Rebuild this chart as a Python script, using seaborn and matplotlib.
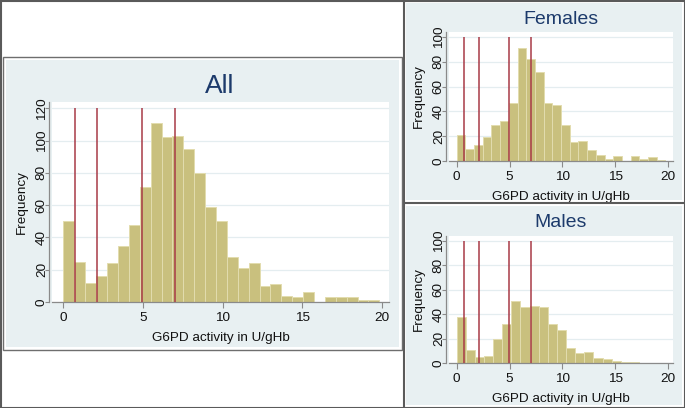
import numpy as np
import pandas as pd
import matplotlib
matplotlib.use("Agg")
import matplotlib.pyplot as plt
from matplotlib.patches import Rectangle
import seaborn as sns

# === Data ===
all_counts = [50, 25, 12, 16, 24, 35, 48, 71, 111, 102, 103, 95, 80, 59, 50,
              28, 21, 24, 10, 11, 4, 3, 6, 0, 3, 3, 3, 1, 1]
female_counts = [21, 10, 13, 19, 29, 32, 47, 91, 82, 72, 47, 45, 29, 15, 16,
                 9, 5, 2, 4, 0, 4, 2, 3, 1]
male_counts = [38, 11, 5, 6, 20, 32, 51, 46, 47, 46, 32, 27, 12, 8, 9,
               4, 3, 2, 1, 1]
bin_widths = {"All": 0.684, "Females": 0.822, "Males": 0.862}
cutoffs = [0.7, 2.1, 4.95, 7.03]
x_ticks = [0, 5, 10, 15, 20]
all_y_ticks = [0, 20, 40, 60, 80, 100, 120]
sex_y_ticks = [0, 20, 40, 60, 80, 100]

# === Style ===
sns.set_style("white")
plt.rcParams['font.family'] = ['Liberation Sans', 'DejaVu Sans']

BAR = '#c9c07e'
BAR_EDGE = '#e2dcae'
CUT = '#a83a47'
BG = '#e8f0f2'
GRID = '#e4edf0'
TITLE = '#1c3a6b'
AXIS = '#8a8a8a'

W, H = 685, 408
fig = plt.figure(figsize=(W / 100, H / 100), dpi=100)
fig.patch.set_facecolor('white')


def frac(l, t, r, b):
    return [l / W, 1 - b / H, (r - l) / W, (b - t) / H]


def rect(l, t, r, b, fc='none', ec='none', lw=1.0, z=-1):
    x, y, w, h = frac(l, t, r, b)
    fig.patches.append(Rectangle((x, y), w, h, transform=fig.transFigure,
                                 facecolor=fc, edgecolor=ec, linewidth=lw,
                                 zorder=z))


# panel backgrounds and frames
rect(6, 60, 399, 347, fc=BG)
rect(406, 3, 682, 200, fc=BG)
rect(406, 206, 682, 405, fc=BG)
rect(3, 57, 402, 350, ec='#6e6e6e', lw=1.0, z=5)
rect(0.5, 0.5, 684.5, 407.5, ec='#5a5a5a', lw=1.5, z=5)
fig.add_artist(plt.Line2D([403.5 / W, 403.5 / W], [0, 1], color='#5a5a5a',
                          lw=1.5, transform=fig.transFigure, zorder=5))
fig.add_artist(plt.Line2D([403.5 / W, 1], [1 - 203 / H, 1 - 203 / H],
                          color='#5a5a5a', lw=1.5, transform=fig.transFigure,
                          zorder=5))


def draw_hist(box, counts, width, ylim, yticks, title, title_xy, title_size,
              font):
    ax = fig.add_axes(frac(*box))
    ax.set_facecolor('white')
    lefts = np.arange(len(counts)) * width
    df = pd.DataFrame({"x": lefts + width / 2, "n": counts})
    sns.histplot(data=df, x="x", weights="n", binwidth=width,
                 binrange=(0, len(counts) * width), ax=ax,
                 color=BAR, alpha=1, edgecolor=BAR_EDGE, linewidth=0.7,
                 zorder=2)
    ax.vlines(cutoffs, 0, yticks[-1], color=CUT, lw=1.1, zorder=3)
    ax.set_xlim(-0.72, 20.44)
    ax.set_ylim(0, ylim)
    ax.set_xticks(x_ticks)
    ax.set_yticks(yticks)
    ax.yaxis.grid(True, color=GRID, lw=0.9, zorder=0)
    ax.set_axisbelow(True)
    for s in ['top', 'right']:
        ax.spines[s].set_visible(False)
    for s in ['left', 'bottom']:
        ax.spines[s].set_color(AXIS)
        ax.spines[s].set_linewidth(0.9)
    ax.spines['left'].set_position(('outward', 2))
    ax.spines['left'].set_bounds(0, ylim)
    ax.tick_params(axis='x', length=4, width=0.8, color=AXIS,
                   labelsize=font, labelcolor='#111111', pad=3, bottom=True)
    ax.tick_params(axis='y', length=3, width=0.8, color=AXIS,
                   labelsize=font, labelcolor='#111111', pad=-2, left=True)
    plt.setp(ax.get_yticklabels(), rotation=90, va='center')
    ax.set_xlabel("G6PD activity in U/gHb", fontsize=font, color='#111111',
                  labelpad=6)
    ax.set_ylabel("Frequency", fontsize=font, color='#111111', labelpad=6)
    fig.text(title_xy[0] / W, 1 - title_xy[1] / H, title, color=TITLE,
             fontsize=title_size, ha='center', va='center')
    return ax


draw_hist((52, 102, 389, 302), all_counts, bin_widths["All"], 123.9,
          all_y_ticks, "All", (220, 86), 19, 9.7)
draw_hist((449, 32, 673, 161), female_counts, bin_widths["Females"], 104,
          sex_y_ticks, "Females", (561, 20), 14, 9.7)
draw_hist((449, 236, 673, 363), male_counts, bin_widths["Males"], 104,
          sex_y_ticks, "Males", (561, 223), 14, 9.7)

fig.savefig("out.png", dpi=100, facecolor=fig.get_facecolor())
